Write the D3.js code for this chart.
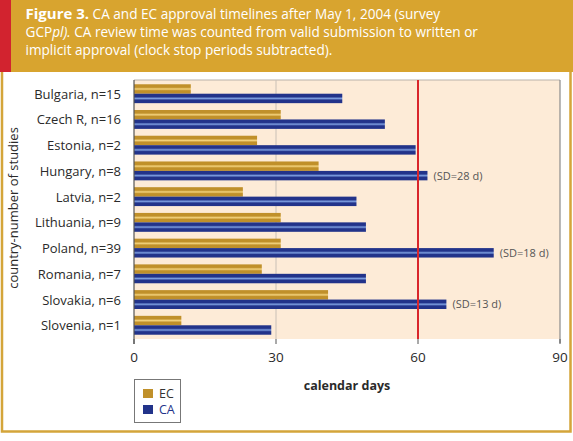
<!DOCTYPE html>
<html><head><meta charset="utf-8">
<script src="https://cdn.jsdelivr.net/npm/d3@7"></script>
<style>body{margin:0;background:#fff}svg{display:block}</style>
</head><body>
<svg id="c" width="573" height="441"></svg>
<script>
const categories = ["Bulgaria, n=15","Czech R, n=16","Estonia, n=2","Hungary, n=8","Latvia, n=2","Lithuania, n=9","Poland, n=39","Romania, n=7","Slovakia, n=6","Slovenia, n=1"];
const ecDays = [12,31,26,39,23,31,31,27,41,10];
const caDays = [44,53,59.5,62,47,49,76,49,66,29];
const sdNotes = ["","","","(SD=28 d)","","","(SD=18 d)","","(SD=13 d)",""];
const xTicks = [0,30,60,90];
const series = ["EC","CA"];
const limitDays = 60;

const svg = d3.select("#c");
const font = "'Open Sans', sans-serif";
const gold = "#d8a42f";

// banner
svg.append("rect").attr("x",0).attr("y",0).attr("width",573).attr("height",72).attr("fill",gold);
svg.append("rect").attr("x",0).attr("y",0).attr("width",11).attr("height",72).attr("fill","#d2232f");
const tAttrs = s => s.attr("font-family",font).attr("font-size",13.6).attr("fill","#fff").attr("x",25.5);
const l1 = tAttrs(svg.append("text")).attr("y",18.8);
l1.append("tspan").attr("font-weight","bold").attr("font-size",15).text("Figure 3.");
l1.append("tspan").text(" CA and EC approval timelines after May 1, 2004 (survey");
const l2 = tAttrs(svg.append("text")).attr("y",36.8);
l2.append("tspan").text("GCP");
l2.append("tspan").attr("font-style","italic").text("pl).");
l2.append("tspan").text("  CA review time was counted from valid submission to written or");
tAttrs(svg.append("text")).attr("y",54.8).text("implicit approval (clock stop periods subtracted).");

// frame
svg.append("path").attr("d","M2,72 V431.5 H570.5 V72").attr("fill","none").attr("stroke","#d4a53a").attr("stroke-width",2.5);

const x0 = 134, x1 = 560, yTop = 80, yBot = 339;
const x = d3.scaleLinear().domain([0,90]).range([x0,x1]);
const y = d3.scaleBand().domain(categories).range([yTop,yBot]).paddingInner(0.266).paddingOuter(0.166);
const ys = d3.scaleBand().domain(series).range([0,y.bandwidth()]);

// plot background
svg.append("rect").attr("x",x0).attr("y",yTop).attr("width",x1-x0).attr("height",yBot-yTop).attr("fill","#fdebd7");
svg.append("line").attr("x1",x0).attr("x2",x1).attr("y1",yTop).attr("y2",yTop).attr("stroke","#b9b2aa");
svg.append("line").attr("x1",x1).attr("x2",x1).attr("y1",yTop).attr("y2",yBot+4).attr("stroke","#8a8a8a").attr("stroke-width",1.2);
svg.append("line").attr("x1",x(30)).attr("x2",x(30)).attr("y1",yTop).attr("y2",yBot).attr("stroke","#c9c0b6");

// gradients
const defs = svg.append("defs");
function grad(id, edge, mid){
  const g = defs.append("linearGradient").attr("id",id).attr("x1",0).attr("x2",0).attr("y1",0).attr("y2",1);
  g.append("stop").attr("offset","0%").attr("stop-color",edge);
  g.append("stop").attr("offset","32%").attr("stop-color",edge);
  g.append("stop").attr("offset","50%").attr("stop-color",mid);
  g.append("stop").attr("offset","68%").attr("stop-color",edge);
  g.append("stop").attr("offset","100%").attr("stop-color",edge);
}
grad("gEC","#c0902a","#f3d27c");
grad("gCA","#22338a","#7d9ee0");

const rows = categories.map((c,i)=>({c, EC:ecDays[i], CA:caDays[i], sd:sdNotes[i]}));
const g = svg.append("g");
rows.forEach(r=>{
  series.forEach(s=>{
    g.append("rect").attr("x",x(0)).attr("y",y(r.c)+ys(s)).attr("width",x(r[s])-x(0)).attr("height",ys.bandwidth())
      .attr("fill",`url(#g${s})`);
  });
  if(r.sd){
    g.append("text").attr("x",x(r.CA)+6).attr("y",y(r.c)+ys("CA")+ys.bandwidth()/2+4)
      .attr("font-family",font).attr("font-size",11).attr("fill","#555").text(r.sd);
  }
});

// limit line
svg.append("line").attr("x1",x(limitDays)).attr("x2",x(limitDays)).attr("y1",yTop).attr("y2",yBot).attr("stroke","#d9262b").attr("stroke-width",2);

// y axis
svg.append("line").attr("x1",x0).attr("x2",x0).attr("y1",yTop).attr("y2",yBot+5).attr("stroke","#555").attr("stroke-width",1.2);
svg.selectAll(".cl").data(categories).enter().append("text")
  .attr("x",121).attr("y",d=>y(d)+y.bandwidth()/2+5).attr("text-anchor","end")
  .attr("font-family",font).attr("font-size",13).attr("fill","#2a2a2a").text(d=>d);

// x ticks
svg.selectAll(".xt").data(xTicks).enter().append("line")
  .attr("x1",d=>x(d)).attr("x2",d=>x(d)).attr("y1",yBot).attr("y2",yBot+5).attr("stroke","#555");
svg.selectAll(".xl").data(xTicks).enter().append("text")
  .attr("x",d=>x(d)).attr("y",yBot+23).attr("text-anchor","middle")
  .attr("font-family",font).attr("font-size",13.5).attr("fill","#2a2a2a").text(d=>d);

svg.append("text").attr("x",347).attr("y",390).attr("text-anchor","middle").attr("font-family",font)
  .attr("font-size",12.5).attr("font-weight","bold").attr("fill","#2a2a2a").text("calendar days");
svg.append("text").attr("transform","translate(18,208) rotate(-90)").attr("text-anchor","middle").attr("font-family",font)
  .attr("font-size",13).attr("fill","#2a2a2a").text("country-number of studies");

// legend
svg.append("rect").attr("x",134.5).attr("y",379.5).attr("width",46).attr("height",43).attr("fill","#fff").attr("stroke","#777");
const legCol = {EC:"#c0902a", CA:"#22338a"};
const legTxt = {EC:"#333", CA:"#22338a"};
series.forEach((s,i)=>{
  svg.append("rect").attr("x",143).attr("y",389+i*16).attr("width",10).attr("height",9).attr("fill",legCol[s]);
  svg.append("text").attr("x",159).attr("y",398+i*16).attr("font-family",font).attr("font-size",12.5).attr("fill",legTxt[s]).text(s);
});
</script>
</body></html>
